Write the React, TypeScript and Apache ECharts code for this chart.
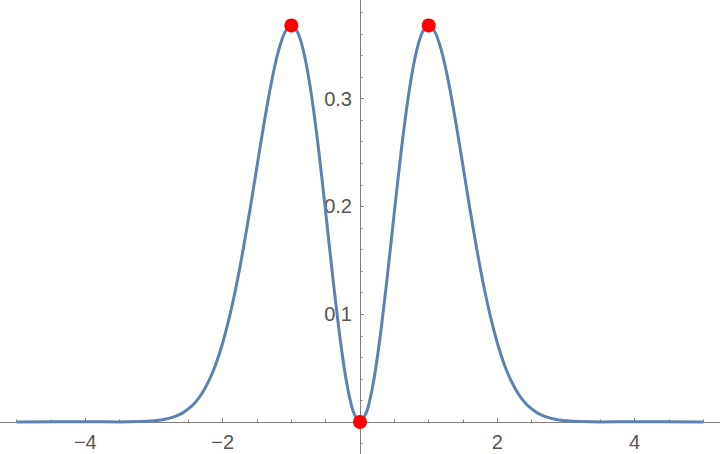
import React, { useEffect, useRef } from "react";
import * as echarts from "echarts";

// curve samples
const curveX = [
  -5, -4, -3.5, -3.2, -3, -2.9, -2.8, -2.7, -2.6, -2.5, -2.4, -2.3, -2.2, -2.1, -2,
  -1.9, -1.8, -1.7, -1.6, -1.5, -1.4, -1.3, -1.2, -1.1, -1, -0.9, -0.8, -0.7, -0.6,
  -0.5, -0.4, -0.3, -0.2, -0.1, 0, 0.1, 0.2, 0.3, 0.4, 0.5, 0.6, 0.7, 0.8, 0.9, 1,
  1.1, 1.2, 1.3, 1.4, 1.5, 1.6, 1.7, 1.8, 1.9, 2, 2.1, 2.2, 2.3, 2.4, 2.5, 2.6, 2.7,
  2.8, 2.9, 3, 3.2, 3.5, 4, 5,
];
const curveY = [
  0, 0.0002, 0.00006, 0.0004, 0.0011, 0.0019, 0.0031, 0.005, 0.0078, 0.0121, 0.0181,
  0.0267, 0.0383, 0.0536, 0.0733, 0.0977, 0.1269, 0.1606, 0.1979, 0.2372, 0.2761,
  0.3118, 0.3412, 0.3608, 0.3679, 0.3604, 0.3375, 0.3002, 0.2512, 0.1947, 0.1363,
  0.0823, 0.0384, 0.0099, 0, 0.0099, 0.0384, 0.0823, 0.1363, 0.1947, 0.2512, 0.3002,
  0.3375, 0.3604, 0.3679, 0.3608, 0.3412, 0.3118, 0.2761, 0.2372, 0.1979, 0.1606,
  0.1269, 0.0977, 0.0733, 0.0536, 0.0383, 0.0267, 0.0181, 0.0121, 0.0078, 0.005,
  0.0031, 0.0019, 0.0011, 0.0004, 0.00006, 0.0002, 0,
];

// highlighted points
const pointX = [-1, 0, 1];
const pointY = [0.3679, 0, 0.3679];

// tick labels shown
const xTickLabels = [-4, -2, 2, 4];
const yTickLabels = [0.1, 0.2, 0.3];

const fmt = (v: number) => String(v).replace("-", "\u2212");

export default function App() {
  const ref = useRef<HTMLDivElement>(null);
  useEffect(() => {
    if (!ref.current) return;
    const chart = echarts.init(ref.current, undefined, { renderer: "svg" });
    const axisColor = "#7f7f7f";
    const labelStyle = {
      color: "#555555",
      fontSize: 20,
      fontFamily: "Liberation Sans, Arial, sans-serif",
    };
    chart.setOption({
      animation: false,
      backgroundColor: "#ffffff",
      grid: {
        left: -52,
        right: -52,
        top: -9.2,
        bottom: -75.8,
        containLabel: false,
        outerBoundsMode: "none",
      },
      xAxis: {
        type: "value",
        min: -6,
        max: 6,
        interval: 2,
        position: "bottom",
        offset: -107.8,
        axisLine: { onZero: false, lineStyle: { color: axisColor, width: 1 } },
        axisTick: { show: true, inside: true, length: 4, lineStyle: { color: axisColor } },
        minorTick: { show: true, splitNumber: 4, length: 2.5, lineStyle: { color: axisColor } },
        splitLine: { show: false },
        minorSplitLine: { show: false },
        axisLabel: {
          ...labelStyle,
          margin: 10,
          formatter: (v: number) =>
            xTickLabels.some((t) => Math.abs(t - v) < 1e-9) ? fmt(v) : "",
        },
      },
      yAxis: {
        type: "value",
        min: -0.1,
        max: 0.4,
        interval: 0.1,
        position: "left",
        offset: -412,
        axisLine: { onZero: false, lineStyle: { color: axisColor, width: 1 } },
        axisTick: { show: true, inside: true, length: 4, lineStyle: { color: axisColor } },
        minorTick: { show: true, splitNumber: 5, length: 2.5, lineStyle: { color: axisColor } },
        splitLine: { show: false },
        minorSplitLine: { show: false },
        axisLabel: {
          ...labelStyle,
          margin: 8,
          formatter: (v: number) => {
            const t = yTickLabels.find((u) => Math.abs(u - v) < 1e-9);
            return t === undefined ? "" : t.toFixed(1);
          },
        },
      },
      series: [
        {
          type: "line",
          data: curveX.map((x, i) => [x, curveY[i]]),
          showSymbol: false,
          symbol: "none",
          smooth: 0.25,
          lineStyle: { color: "#5E81B5", width: 3 },
          z: 2,
        },
        {
          type: "scatter",
          data: pointX.map((x, i) => [x, pointY[i]]),
          symbol: "circle",
          symbolSize: 14,
          itemStyle: { color: "#FF0000", opacity: 1 },
          clip: false,
          z: 3,
        },
      ],
    });
    return () => chart.dispose();
  }, []);
  return (
    <div
      ref={ref}
      style={{ position: "absolute", left: 0, top: 0, width: 720, height: 454 }}
    />
  );
}
